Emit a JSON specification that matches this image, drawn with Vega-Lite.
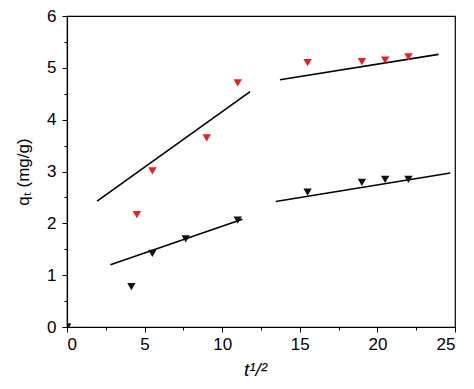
{
  "$schema": "https://vega.github.io/schema/vega-lite/v6.json",
  "width": 388,
  "height": 311,
  "autosize": {"type": "none"},
  "padding": {"left": 67, "top": 16, "right": 19, "bottom": 62},
  "background": "white",
  "config": {
    "view": {"stroke": "black", "strokeWidth": 1.2},
    "font": "Liberation Sans"
  },
  "datasets": {
    "pts": [
      {"series": "A", "x": 0, "y": 0},
      {"series": "A", "x": 4.5, "y": 2.17},
      {"series": "A", "x": 5.5, "y": 3.01},
      {"series": "A", "x": 9.0, "y": 3.65},
      {"series": "A", "x": 11.0, "y": 4.71},
      {"series": "A", "x": 15.5, "y": 5.1},
      {"series": "A", "x": 19.0, "y": 5.12},
      {"series": "A", "x": 20.5, "y": 5.15},
      {"series": "A", "x": 22.0, "y": 5.21},
      {"series": "B", "x": 0, "y": 0},
      {"series": "B", "x": 4.15, "y": 0.78},
      {"series": "B", "x": 5.5, "y": 1.42},
      {"series": "B", "x": 7.65, "y": 1.7},
      {"series": "B", "x": 11.0, "y": 2.06},
      {"series": "B", "x": 15.5, "y": 2.6},
      {"series": "B", "x": 19.0, "y": 2.79},
      {"series": "B", "x": 20.5, "y": 2.85},
      {"series": "B", "x": 22.0, "y": 2.85}
    ],
    "fits": [
      {"seg": "A1", "x": 1.94, "y": 2.43},
      {"seg": "A1", "x": 11.8, "y": 4.54},
      {"seg": "A2", "x": 13.72, "y": 4.77},
      {"seg": "A2", "x": 23.94, "y": 5.26},
      {"seg": "B1", "x": 2.8, "y": 1.2},
      {"seg": "B1", "x": 11.3, "y": 2.08},
      {"seg": "B2", "x": 13.45, "y": 2.42},
      {"seg": "B2", "x": 24.7, "y": 2.97}
    ]
  },
  "resolve": {"axis": {"x": "independent", "y": "independent"}},
  "layer": [
    {
      "data": {"name": "fits"},
      "mark": {"type": "line", "color": "black", "strokeWidth": 1.6},
      "encoding": {
        "x": {
          "field": "x", "type": "quantitative",
          "scale": {"domain": [0, 25], "nice": false, "zero": false},
          "axis": {
            "orient": "bottom",
            "values": [0, 5, 10, 15, 20, 25],
            "grid": false,
            "domainColor": "black", "domainWidth": 1.2,
            "tickColor": "black", "tickSize": 5, "tickWidth": 1,
            "labelFontSize": 17, "labelColor": "black", "labelPadding": 4,
            "labelFont": "Liberation Sans",
            "title": "t¹/²",
            "titleFont": "Liberation Sans", "titleFontStyle": "italic",
            "titleFontWeight": "normal", "titleFontSize": 19,
            "titleColor": "black", "titlePadding": 8, "titleX": 188
          }
        },
        "y": {
          "field": "y", "type": "quantitative",
          "scale": {"domain": [0, 6], "nice": false, "zero": false},
          "axis": {
            "orient": "left",
            "values": [0, 1, 2, 3, 4, 5, 6],
            "grid": false,
            "domainColor": "black", "domainWidth": 1.2,
            "tickColor": "black", "tickSize": 5, "tickWidth": 1,
            "labelFontSize": 17, "labelColor": "black", "labelPadding": 6,
            "labelFont": "Liberation Sans",
            "title": "qₜ (mg/g)",
            "titleFont": "Liberation Sans",
            "titleFontWeight": "normal", "titleFontSize": 17,
            "titleColor": "black", "titlePadding": 14
          }
        },
        "detail": {"field": "seg"}
      }
    },
    {
      "data": {"name": "pts"},
      "mark": {"type": "point", "shape": "triangle-down", "filled": true, "opacity": 1, "size": 70, "clip": true},
      "encoding": {
        "x": {
          "field": "x", "type": "quantitative",
          "axis": {
            "orient": "bottom",
            "values": [2.5, 7.5, 12.5, 17.5, 22.5],
            "grid": false, "domain": false, "labels": false, "title": null,
            "tickColor": "black", "tickSize": 3, "tickWidth": 1
          }
        },
        "y": {
          "field": "y", "type": "quantitative",
          "axis": {
            "orient": "left",
            "values": [0.5, 1.5, 2.5, 3.5, 4.5, 5.5],
            "grid": false, "domain": false, "labels": false, "title": null,
            "tickColor": "black", "tickSize": 3, "tickWidth": 1
          }
        },
        "color": {
          "field": "series", "type": "nominal",
          "scale": {"domain": ["A", "B"], "range": ["#ee1c25", "#111111"]},
          "legend": null
        }
      }
    }
  ]
}
